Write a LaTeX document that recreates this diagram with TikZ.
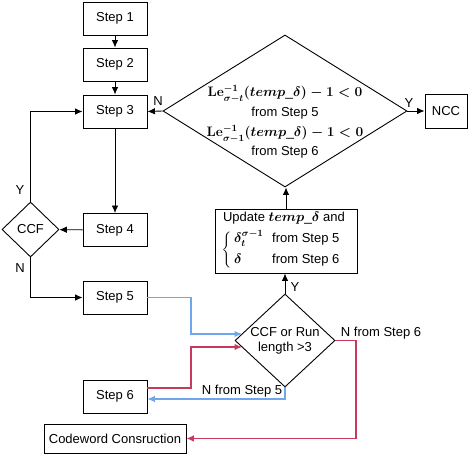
\RequirePackage{fix-cm}
\documentclass[tikz,border=0pt]{standalone}
\usepackage{amsmath}
\usepackage[no-math]{fontspec}
\setmainfont{Liberation Sans}
\usetikzlibrary{arrows.meta,shapes.geometric}
\definecolor{lblue}{HTML}{6FA6EC}
\definecolor{lred}{HTML}{C63A5C}
\newsavebox\mathA
\newsavebox\mathB
\newsavebox\updA
\newsavebox\brc
\newsavebox\dA
\newsavebox\dB
\newcommand\mfont{\fontsize{13.7}{16}\selectfont\boldmath}
\begin{document}
\sbox\mathA{\mfont$\mathrm{Le}^{-1}_{\sigma-t}(temp\_\delta)-1<0$}%
\sbox\mathB{\mfont$\mathrm{Le}^{-1}_{\sigma-1}(temp\_\delta)-1<0$}%
\sbox\updA{\fontsize{13}{15}\selectfont Update {\mfont$temp\_\delta$} and}%
\sbox\brc{\fontsize{13}{15}\selectfont$\left\{\vrule height 14pt depth 14pt width 0pt\right.$}%
\sbox\dA{\mfont$\delta_t^{\sigma-1}$}%
\sbox\dB{\mfont$\delta$}%
\begin{tikzpicture}[x=1pt,y=-1pt,
  box/.style={draw,line width=0.9pt,minimum width=64pt,minimum height=33pt,inner sep=0pt},
  dia/.style={draw,diamond,line width=0.9pt,inner sep=0pt},
  arr/.style={-{Latex[length=7.5pt,width=6.5pt]},line width=0.9pt},
  barr/.style={arr,lblue,line width=1.1pt},
  rarr/.style={arr,lred,line width=1.1pt},
  lbl/.style={inner sep=1pt},
  txt/.style={inner sep=0pt},
  font=\fontsize{13}{15}\selectfont]
\useasboundingbox (0,0) rectangle (474,457);
% boxes
\node[box] (s1) at (115,18.5) {Step 1};
\node[box] (s2) at (115,64.5) {Step 2};
\node[box] (s3) at (115,111.5) {Step 3};
\node[box] (s4) at (115,230) {Step 4};
\node[box] (s5) at (115,297.5) {Step 5};
\node[box] (s6) at (115,396.5) {Step 6};
\node[box,minimum width=142pt,minimum height=29pt] (cw) at (115,438.5) {Codeword Consruction};
\node[box,minimum width=42pt,minimum height=34pt] (ncc) at (446,111) {NCC};
\node[box,minimum width=142pt,minimum height=64pt] (upd) at (286,241) {};
\node[txt,anchor=base] (u1) at (284,222) {\usebox\updA};
\node[txt] (u2) at (227,250.5) {\usebox\brc};
\node[txt,anchor=base west] (u3) at (234,243) {\usebox\dA};
\node[txt,anchor=base west] (u4) at (234,263) {\usebox\dB};
\node[txt,anchor=base west] (u5) at (272,243) {from Step 5};
\node[txt,anchor=base west] (u6) at (272,263) {from Step 6};
% diamonds
\node[dia,minimum width=57pt,minimum height=55pt] (ccf) at (30.5,229.5) {};
\node (ccft) at (30.5,229.5) {CCF};
\node[dia,minimum width=244pt,minimum height=152pt] (big) at (285,111) {};
\node[txt,anchor=base] (b1) at (285,97) {\usebox\mathA};
\node[txt,anchor=base] (b2) at (285,117) {from Step 5};
\node[txt,anchor=base] (b3) at (285,137) {\usebox\mathB};
\node[txt,anchor=base] (b4) at (285,156) {from Step 6};
\node[dia,minimum width=100pt,minimum height=93pt] (sd) at (285,340.5) {};
\node[align=center,inner sep=0pt] (sdt) at (285,341) {CCF or Run\\length >3};
% coordinates
\coordinate (bIn) at (242,334);
\coordinate (rIn) at (242,347);
% black connectors
\draw[arr] (s1) -- (s2);
\draw[arr] (s2) -- (s3);
\draw[arr] (s3) -- (s4);
\draw[arr] (s4) -- (ccf);
\draw[arr] (ccf.north) |- (s3.west);
\draw[arr] (ccf.south) |- (s5.west);
\draw[arr] (big.west) -- (s3.east);
\draw[arr] (big.east) -- (ncc.west);
\draw[arr] (upd.north) -- (upd.north |- big.south);
\draw[arr] (sd.north) -- (upd.south -| sd.north);
\node[lbl] (ly1) at (20,190) {Y};
\node[lbl] (ln1) at (20,268) {N};
\node[lbl] (ln2) at (158,101) {N};
\node[lbl] (ly2) at (409,103) {Y};
\node[lbl] (ly3) at (295,287) {Y};
% coloured connectors
\draw[barr] (s5.east) -- (191,297.5) -- (191,334) -- (bIn);
\draw[rarr] (s6.east |- 0,388) -- (191,388) -- (191,347) -- (rIn);
\draw[barr] (sd.south) -- (285,399) -- (s6.east |- 0,399);
\draw[rarr] (sd.east) -- (356,340.5) -- (356,438.5) -- (cw.east);
\node[lbl] (ln5) at (242,391) {N from Step 5};
\node[lbl] (ln6) at (381,333) {N from Step 6};
\end{tikzpicture}
\end{document}
